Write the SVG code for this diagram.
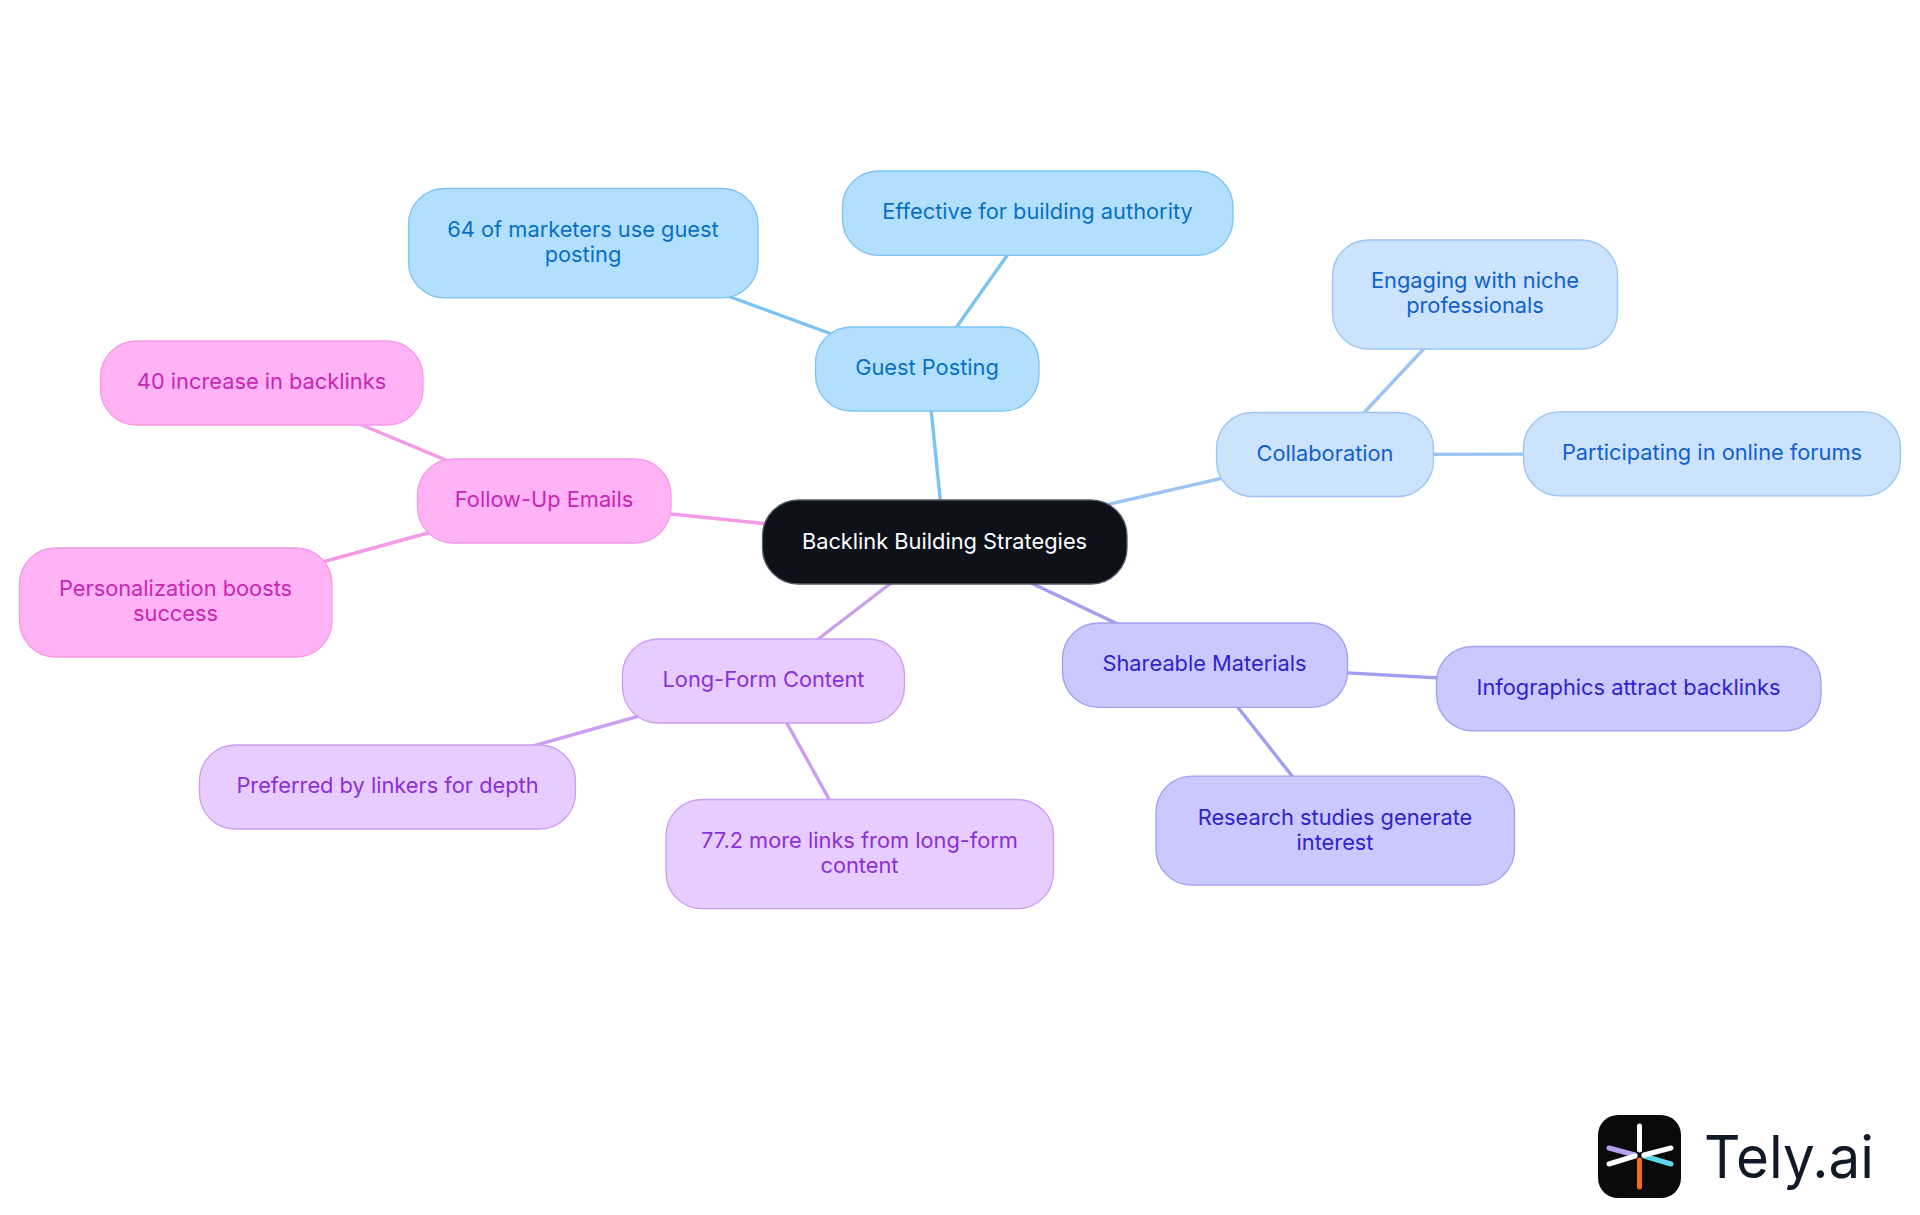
<svg xmlns="http://www.w3.org/2000/svg" width="1920" height="1215" viewBox="0 0 1920 1215">
<style>
text{font-family:"Inter","Noto Sans","Liberation Sans",sans-serif;font-size:21.8px;text-anchor:middle;font-weight:400}
.n{stroke-width:1.3}
#connectors line{stroke-width:3.4;fill:none}
.c0{fill:#0c111a;stroke:#555a62}.t0{fill:#fff}
.c1{fill:#b3dfff;stroke:#7cc3f3}.t1{fill:#0670c4}.l1{stroke:#7cc3f3}
.c2{fill:#cce3fd;stroke:#9cc4f3}.t2{fill:#1060cf}.l2{stroke:#9cc4f3}
.c3{fill:#c9c9ff;stroke:#a09ff0}.t3{fill:#3022cc}.l3{stroke:#a09ff0}
.c4{fill:#e6ccff;stroke:#cc9df0}.t4{fill:#8b2fd8}.l4{stroke:#cc9df0}
.c5{fill:#ffb3f5;stroke:#f49ae6}.t5{fill:#c925b5}.l5{stroke:#f49ae6}
</style>
<rect width="1920" height="1215" fill="#fff"/>
<g id="connectors">
<line class="l1" x1="944.5" y1="542" x2="927" y2="369"/>
<line class="l1" x1="927" y1="369" x2="1037" y2="213"/>
<line class="l1" x1="927" y1="369" x2="583" y2="243"/>
<line class="l2" x1="944.5" y1="542" x2="1325" y2="454.500"/>
<line class="l2" x1="1325" y1="454.500" x2="1475" y2="294"/>
<line class="l2" x1="1325" y1="454.500" x2="1712" y2="453.700"/>
<line class="l3" x1="944.5" y1="542" x2="1204.500" y2="665"/>
<line class="l3" x1="1204.500" y1="665" x2="1628.500" y2="688.500"/>
<line class="l3" x1="1204.500" y1="665" x2="1335" y2="830.500"/>
<line class="l4" x1="944.5" y1="542" x2="763.500" y2="681"/>
<line class="l4" x1="763.500" y1="681" x2="387.500" y2="787"/>
<line class="l4" x1="763.500" y1="681" x2="859.500" y2="854"/>
<line class="l5" x1="944.5" y1="542" x2="544" y2="501"/>
<line class="l5" x1="544" y1="501" x2="261.500" y2="383"/>
<line class="l5" x1="544" y1="501" x2="175.500" y2="602.500"/>
</g>
<g id="root"><rect class="n c0" x="762.500" y="500" width="364.500" height="84" rx="36"/><text class="t0" x="944.5" y="549">Backlink Building Strategies</text></g>
<g id="guest-posting"><rect class="n c1" x="815.500" y="327" width="223.500" height="84" rx="36"/><text class="t1" x="927" y="375">Guest Posting</text></g>
<g id="guest-authority"><rect class="n c1" x="842.500" y="171" width="390.500" height="84.300" rx="36"/><text class="t1" x="1037.500" y="219">Effective for building authority</text></g>
<g id="guest-marketers"><rect class="n c1" x="408.500" y="188.500" width="349.500" height="109.300" rx="36"/><text class="t1" x="583" y="237">64 of marketers use guest</text><text class="t1" x="583" y="262">posting</text></g>
<g id="collaboration"><rect class="n c2" x="1216.500" y="412.500" width="217" height="84" rx="36"/><text class="t2" x="1325" y="460.500">Collaboration</text></g>
<g id="collab-niche"><rect class="n c2" x="1332.500" y="240" width="285" height="109" rx="36"/><text class="t2" x="1475" y="288">Engaging with niche</text><text class="t2" x="1475" y="313">professionals</text></g>
<g id="collab-forums"><rect class="n c2" x="1523.500" y="411.800" width="377" height="84" rx="36"/><text class="t2" x="1712" y="459.500">Participating in online forums</text></g>
<g id="shareable"><rect class="n c3" x="1062.500" y="623" width="285" height="84.300" rx="36"/><text class="t3" x="1204.500" y="671">Shareable Materials</text></g>
<g id="share-infographics"><rect class="n c3" x="1436.500" y="646.500" width="384.500" height="84.300" rx="36"/><text class="t3" x="1628.500" y="694.500">Infographics attract backlinks</text></g>
<g id="share-research"><rect class="n c3" x="1156" y="776.200" width="358.500" height="109" rx="36"/><text class="t3" x="1335" y="824.500">Research studies generate</text><text class="t3" x="1335" y="849.500">interest</text></g>
<g id="long-form"><rect class="n c4" x="622.500" y="639" width="282" height="84" rx="36"/><text class="t4" x="763.500" y="687">Long-Form Content</text></g>
<g id="long-depth"><rect class="n c4" x="199.500" y="745" width="376" height="84" rx="36"/><text class="t4" x="387.500" y="792.500">Preferred by linkers for depth</text></g>
<g id="long-links"><rect class="n c4" x="666" y="799.500" width="387.500" height="109.200" rx="36"/><text class="t4" x="859.500" y="848">77.2 more links from long-form</text><text class="t4" x="859.500" y="873">content</text></g>
<g id="follow-up"><rect class="n c5" x="417.500" y="459" width="253.500" height="84" rx="36"/><text class="t5" x="544" y="507">Follow-Up Emails</text></g>
<g id="follow-increase"><rect class="n c5" x="100.500" y="341" width="322.500" height="84" rx="36"/><text class="t5" x="261.500" y="389">40 increase in backlinks</text></g>
<g id="follow-personal"><rect class="n c5" x="19.500" y="548" width="312.500" height="109" rx="36"/><text class="t5" x="175.500" y="596">Personalization boosts</text><text class="t5" x="175.500" y="621">success</text></g>
<g id="logo">
<rect x="1598" y="1115" width="83" height="83" rx="20" fill="#0a0a0a"/>
<g stroke-width="5" stroke-linecap="round" fill="none">
<line x1="1639.500" y1="1126" x2="1639.500" y2="1150" stroke="#fff"/>
<line x1="1639.500" y1="1160" x2="1639.500" y2="1187" stroke="#f26a12"/>
<line x1="1609" y1="1148" x2="1635" y2="1155" stroke="#b9a0f0"/>
<line x1="1644" y1="1156" x2="1671" y2="1164" stroke="#5cd8ec"/>
<line x1="1609" y1="1164" x2="1635" y2="1156" stroke="#fff"/>
<line x1="1644" y1="1155" x2="1671" y2="1148" stroke="#fff"/>
</g>
<text x="1704" y="1178" textLength="170" lengthAdjust="spacingAndGlyphs" style="font-size:59px;text-anchor:start;font-weight:400;fill:#111a26">Tely.ai</text>
</g>
</svg>
